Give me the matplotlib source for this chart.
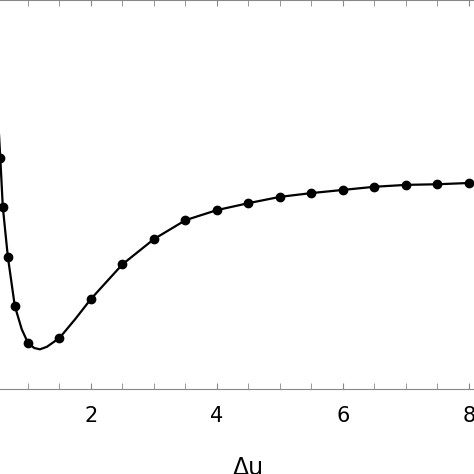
import matplotlib
matplotlib.use("Agg")
import matplotlib.pyplot as plt
import matplotlib.ticker as ticker

# values (y in arbitrary units, axis at 0)
dot_x = [0.56, 0.60, 0.68, 0.79, 1.0, 1.5, 2.0, 2.5, 3.0, 3.5, 4.0,
         4.5, 5.0, 5.5, 6.0, 6.5, 7.0, 7.5, 8.0]
dot_y = [3.67, 2.89, 2.10, 1.32, 0.73, 0.81, 1.43, 1.98, 2.38, 2.68, 2.84,
         2.95, 3.05, 3.11, 3.16, 3.21, 3.24, 3.25, 3.27]

curve_x = [0.52, 0.56, 0.60, 0.68, 0.79, 0.9, 1.0, 1.1, 1.19, 1.3, 1.5,
           1.75, 2.0, 2.5, 3.0, 3.5, 4.0, 4.5, 5.0, 5.5, 6.0, 6.5, 7.0,
           7.5, 8.0, 8.5, 9.0]
curve_y = [4.4, 3.67, 2.89, 2.10, 1.32, 0.95, 0.73, 0.65, 0.63, 0.67, 0.81,
           1.11, 1.43, 1.98, 2.38, 2.68, 2.84, 2.95, 3.05, 3.11, 3.16, 3.21,
           3.24, 3.25, 3.27, 3.28, 3.29]

fig = plt.figure(figsize=(4.74, 4.74), dpi=100)
ax = fig.add_axes([-35 / 474, 85 / 474, 9 * 63 / 474, 389 / 474])
ax.plot(curve_x, curve_y, color="black", lw=1.6)
ax.plot(dot_x, dot_y, "o", color="black", ms=6)

ax.set_xlim(0, 9)
ax.set_ylim(0, 389 / 63)
ax.xaxis.set_major_locator(ticker.MultipleLocator(2))
ax.xaxis.set_minor_locator(ticker.MultipleLocator(0.5))
ax.tick_params(axis="x", which="both", direction="in", top=True,
               length=4, color="#888888", labelsize=15, pad=12)
ax.tick_params(axis="y", left=False, labelleft=False)
for s in ax.spines.values():
    s.set_color("#888888")
ax.set_xlabel("Δu", fontsize=17, labelpad=22)

fig.savefig("out.png", dpi=100)
